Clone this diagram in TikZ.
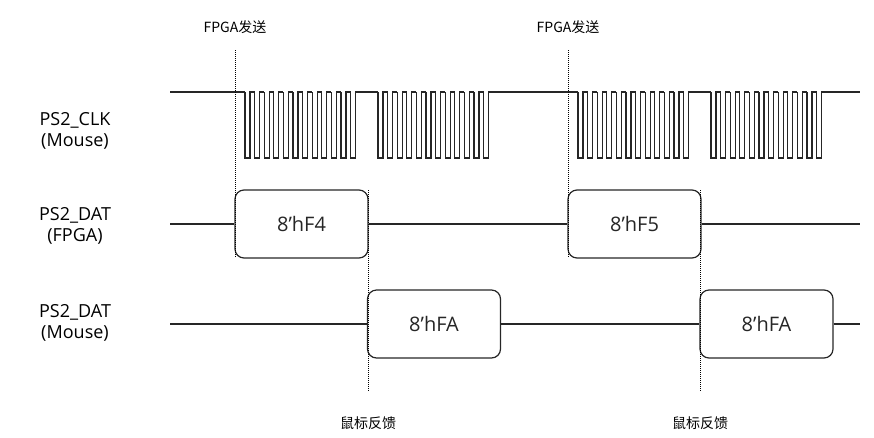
\documentclass[tikz,border=0pt]{standalone}
\usepackage{fontspec}
\setmainfont{Open Sans}
\newfontfamily\cjk{Noto Sans CJK SC}
\begin{document}
\begin{tikzpicture}[x=1pt,y=-1pt,
  wave/.style={line width=1.2pt,black!85},
  guide/.style={densely dotted,line width=1pt},
  databox/.style={draw,line width=1.2pt,black!85,rounded corners=9pt,minimum width=133pt,minimum height=68pt,font=\fontsize{20}{22}\selectfont,inner sep=0pt},
  sig/.style={font=\fontsize{18}{21}\selectfont,align=center},
  note/.style={font=\cjk\fontsize{14}{16}\selectfont}]
\useasboundingbox (0,0) rectangle (874,437);
% labels
\node[sig] (l1) at (75,131) {PS2\_CLK\\(Mouse)};
\node[sig] (l2) at (75,226) {PS2\_DAT\\(FPGA)};
\node[sig] (l3) at (75,323) {PS2\_DAT\\(Mouse)};
\node[note] (n1) at (235,27) {FPGA发送};
\node[note] (n2) at (568,27) {FPGA发送};
\node[note] (n3) at (368,423) {鼠标反馈};
\node[note] (n4) at (700,423) {鼠标反馈};
% clock
\draw[wave] (170,92) -- (245,92);
\foreach \s in {245,378,578,711}{
  \foreach \i in {0,...,11}{
    \pgfmathsetmacro\a{\s+\i*9.6}
    \pgfmathsetmacro\b{\a+5}
    \pgfmathsetmacro\c{\a+9.6}
    \draw[wave,line join=miter] (\a,92) -- (\a,158) -- (\b,158) -- (\b,92) -- (\c,92);
  }
}
\draw[wave] (360,92) -- (378,92);
\draw[wave] (493,92) -- (578,92);
\draw[wave] (693,92) -- (711,92);
\draw[wave] (826,92) -- (860,92);
% boxes
\node[databox] (b1) at (301.5,224) {8'hF4};
\node[databox] (b2) at (634.5,224) {8'hF5};
\node[databox] (b3) at (434,324) {8'hFA};
\node[databox] (b4) at (766.5,324) {8'hFA};
\coordinate (d0) at (170,224); \coordinate (d1) at (860,224);
\coordinate (m0) at (170,324); \coordinate (m1) at (860,324);
\draw[wave] (d0) -- (b1.west); \draw[wave] (b1.east) -- (b2.west); \draw[wave] (b2.east) -- (d1);
\draw[wave] (m0) -- (b3.west); \draw[wave] (b3.east) -- (b4.west); \draw[wave] (b4.east) -- (m1);
% guides
\draw[guide] (235,50) -- (235,258);
\draw[guide] (568,50) -- (568,258);
\draw[guide] (368,190) -- (368,392);
\draw[guide] (700,190) -- (700,392);
\end{tikzpicture}
\end{document}
